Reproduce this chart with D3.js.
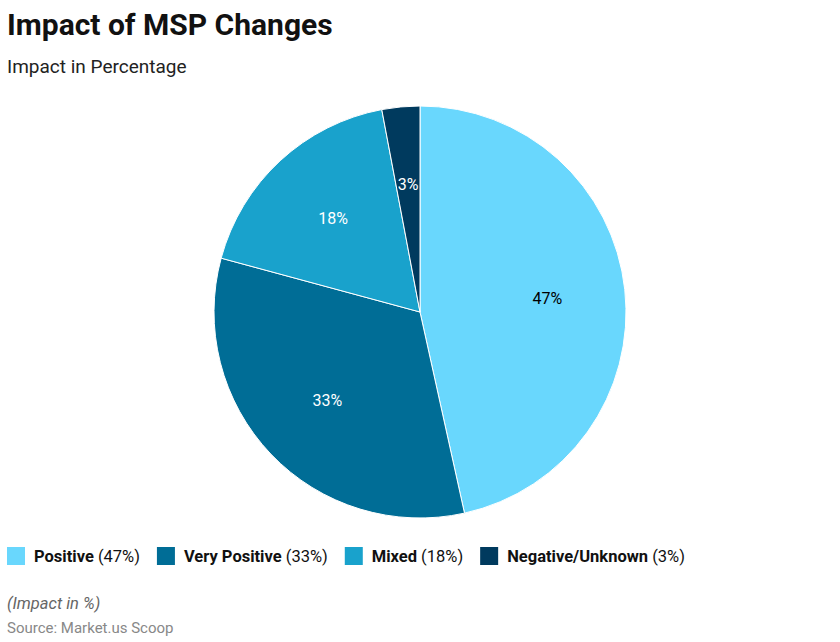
<!DOCTYPE html>
<html>
<head>
    <title>Impact of MSP Changes</title>
    <script src="https://d3js.org/d3.v7.min.js"></script>
    <style>
        body { margin: 0; background: #fff; font-family: Roboto, "Noto Sans", sans-serif; }
    </style>
</head>
<body>
    <div id="chart"></div>
    <script>
        const categories = ["Positive", "Very Positive", "Mixed", "Negative/Unknown"];
        const values = [47, 33, 18, 3];
        const colors = ["#69d7fd", "#006d96", "#19a2cc", "#003a5e"];
        const labelColors = ["#000", "#fff", "#fff", "#fff"];

        const width = 840, height = 642;
        const cx = 420, cy = 312, radius = 206;

        const svg = d3.select("#chart").append("svg")
            .attr("width", width)
            .attr("height", height);

        svg.append("text")
            .attr("x", 7).attr("y", 35)
            .style("font-size", "30px").style("font-weight", "bold")
            .style("fill", "#111")
            .text("Impact of MSP Changes");

        svg.append("text")
            .attr("x", 7).attr("y", 73)
            .style("font-size", "19px")
            .style("fill", "#222")
            .text("Impact in Percentage");

        var data = categories.map(function(c, i) { return {key: c, value: values[i], i: i}; });

        var pie = d3.pie().sort(null).value(function(d) { return d.value; });
        var arc = d3.arc().innerRadius(0).outerRadius(radius);
        var labelArc = d3.arc().innerRadius(128 * 2 - radius).outerRadius(radius);

        var g = svg.append("g").attr("transform", "translate(" + cx + "," + cy + ")");

        var arcs = pie(data);

        g.selectAll("path")
            .data(arcs)
            .enter().append("path")
            .attr("d", arc)
            .attr("fill", function(d) { return colors[d.data.i]; })
            .attr("stroke", "#fff")
            .attr("stroke-width", 1);

        g.selectAll(".lbl")
            .data(arcs)
            .enter().append("text")
            .attr("class", "lbl")
            .attr("transform", function(d) { return "translate(" + labelArc.centroid(d) + ")"; })
            .attr("dy", "0.35em")
            .style("text-anchor", "middle")
            .style("font-size", "16px")
            .style("fill", function(d) { return labelColors[d.data.i]; })
            .text(function(d) { return d.data.value + "%"; });

        // legend
        var lx = 7;
        var legend = svg.append("g");
        data.forEach(function(d) {
            legend.append("rect")
                .attr("x", lx).attr("y", 547)
                .attr("width", 18).attr("height", 18)
                .attr("fill", colors[d.i]);
            var t = legend.append("text")
                .attr("x", lx + 27).attr("y", 562)
                .style("font-size", "16.5px")
                .style("fill", "#111");
            t.append("tspan").style("font-weight", "bold").text(d.key);
            t.append("tspan").text(" (" + d.value + "%)");
            lx += 27 + t.node().getComputedTextLength() + 17;
        });

        svg.append("text")
            .attr("x", 7).attr("y", 609)
            .style("font-size", "16.5px").style("font-style", "italic")
            .style("fill", "#666")
            .text("(Impact in %)");

        svg.append("text")
            .attr("x", 7).attr("y", 633)
            .style("font-size", "15px")
            .style("fill", "#888")
            .text("Source: Market.us Scoop");
    </script>
</body>
</html>
